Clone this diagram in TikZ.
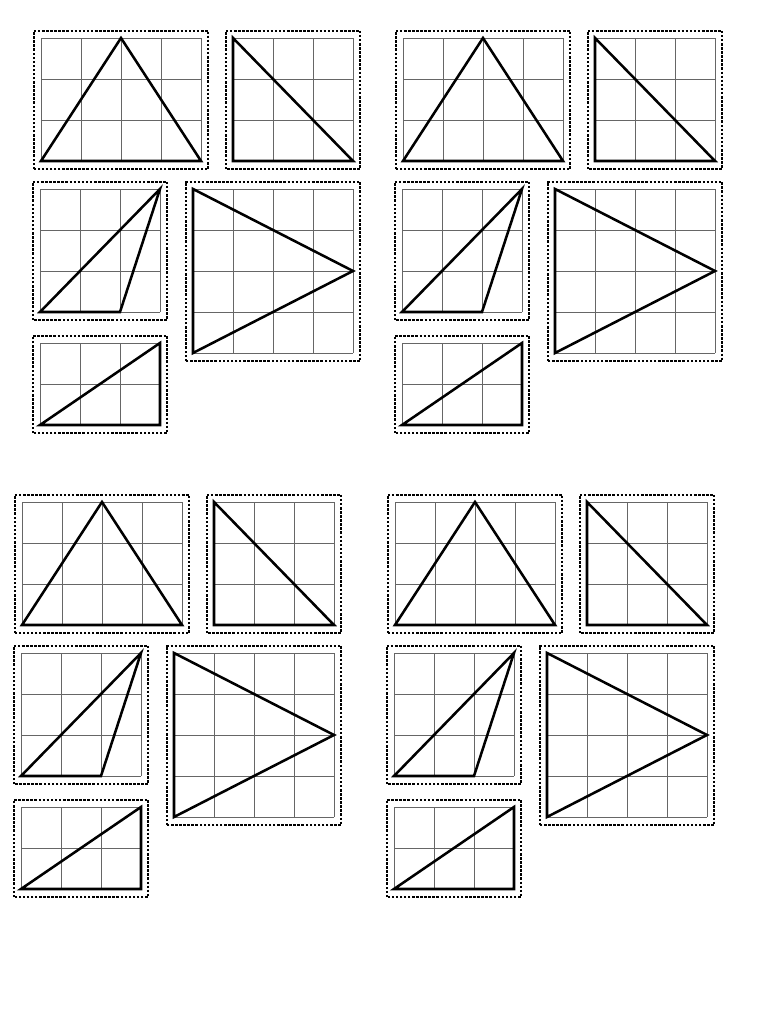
\documentclass[tikz,border=0pt]{standalone}
\usepackage{tikz}

\tikzset{
  gridln/.style={black!60,line width=0.6pt},
  dotbox/.style={black,line width=1.4pt,dash pattern=on 1.8pt off 1.1pt},
  tri/.style={black,line width=1.8pt,line join=miter}
}

% one grid with its triangle: shift, columns, rows, corners
\newcommand{\gfig}[4]{%
  \begin{scope}[shift={#1},yscale=1.025]
    \draw[gridln] (0,0) grid (#2,#3);
    \draw[dotbox] (-0.18,-0.2) rectangle (#2+0.18,#3+0.18);
    \draw[tri] #4 -- cycle;
  \end{scope}}

% the set of five grids
\newcommand{\gset}[1]{%
  \begin{scope}[shift={#1}]
    \gfig{(1.025,21.575)}{4}{3}{(0,0) -- (4,0) -- (2,3)}
    \gfig{(5.825,21.575)}{3}{3}{(0,3) -- (0,0) -- (3,0)}
    \gfig{(1.0,17.8)}{3}{3}{(0,0) -- (2,0) -- (3,3)}
    \gfig{(4.825,16.775)}{4}{4}{(0,4) -- (0,0) -- (4,2)}
    \gfig{(1.0,14.975)}{3}{2}{(0,0) -- (3,0) -- (3,2)}
  \end{scope}}

\begin{document}
\begin{tikzpicture}
  \useasboundingbox (0,0) rectangle (19.2,25.6);
  \gset{(0,0)}
  \gset{(9.05,0)}
  \gset{(-0.475,-11.6)}
  \gset{(8.85,-11.6)}
\end{tikzpicture}
\end{document}
